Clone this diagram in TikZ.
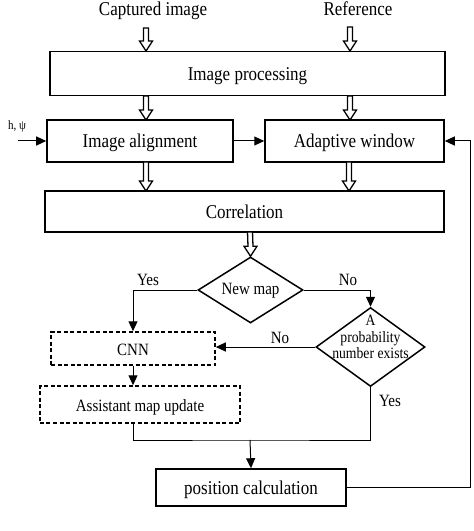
\documentclass[tikz,border=0pt]{standalone}
\usepackage{fontspec}
\usepackage{graphicx}
\setmainfont{Liberation Serif}
\usetikzlibrary{arrows.meta,shapes.geometric,calc}
\newcommand\hollowarr[2]{\draw[harrow] ($(#1)+(-2.5bp,0)$) -- ($(#2)+(-2.5bp,10bp)$) -- ($(#2)+(-6.5bp,10bp)$) -- (#2) -- ($(#2)+(6.5bp,10bp)$) -- ($(#2)+(2.5bp,10bp)$) -- ($(#1)+(2.5bp,0)$) -- cycle;}
\newcommand\vs[1]{\scalebox{1}[1.15]{#1}}
\begin{document}
\begin{tikzpicture}[x=1bp,y=-1bp,
  big/.style={font=\fontsize{17bp}{20bp}\selectfont},
  mid/.style={font=\fontsize{15bp}{18bp}\selectfont},
  box/.style={draw, line width=1.5bp, inner sep=0, big, text height=14bp, text depth=0bp},
  dbox/.style={draw, line width=1.5bp, inner sep=0, dash pattern=on 4bp off 2.5bp, mid, text height=13bp, text depth=0bp},
  dia/.style={draw, diamond, line width=1.5bp, inner sep=0, aspect=1.6},
  arr/.style={line width=1bp, -{Triangle[length=10bp,width=9bp]}},
  ln/.style={line width=1bp},
  harrow/.style={line width=1.3bp, fill=white, line join=miter},
  lbl/.style={inner sep=0, mid},
]
\useasboundingbox (0,0) rectangle (474,531);
% texts at top
\node[inner sep=0, big, anchor=base] (cap) at (153,16) {\vs{Captured image}};
\node[inner sep=0, big, anchor=base] (ref) at (358,16) {\vs{Reference}};
% boxes
\node[box, minimum width=395bp, minimum height=44bp] (ip) at (247.5,73.5) {\vs{Image processing}};
\node[box, minimum width=186bp, minimum height=42bp] (ia) at (140,141) {\vs{Image alignment}};
\node[box, minimum width=179bp, minimum height=42bp] (aw) at (354.5,141) {\vs{Adaptive window}};
\node[box, minimum width=399bp, minimum height=41bp] (corr) at (244.5,211.5) {\vs{Correlation}};
\node[dia, minimum width=105bp, minimum height=66bp, mid, text height=8bp, text depth=0bp] (nm) at (250.5,290) {\vs{New map}};
\node[dia, minimum width=109bp, minimum height=79bp,
  label={[inner sep=0, align=center, font=\fontsize{13.7bp}{16.5bp}\selectfont, yshift=10bp]center:\vs{A}\\\vs{probability}\\\vs{number exists}}] (d2) at (370.5,347) {};
\node[dbox, minimum width=164bp, minimum height=33bp] (cnn) at (133,348.5) {\vs{CNN}};
\node[dbox, minimum width=200bp, minimum height=37bp] (am) at (140,404.5) {\vs{Assistant map update}};
\node[box, minimum width=190bp, minimum height=37bp] (pc) at (251,487.5) {\vs{position calculation}};
% coordinates
\coordinate (hin) at (18,141);
\coordinate (j) at (250,440);
\coordinate (fb) at (470,141);
% hollow arrows
\hollowarr{146,28}{146,51}
\hollowarr{350,27}{350,51}
\hollowarr{146,96}{146,120}
\hollowarr{350,96}{350,120}
\hollowarr{146,162}{146,191}
\hollowarr{349,162}{349,191}
\hollowarr{250,232}{nm.north}
% connectors
\node[inner sep=0, font=\fontsize{11bp}{13bp}\selectfont] (hpsi) at (17,126) {\vs{h, ψ}};
\draw[arr] (hin) -- (ia.west);
\draw[arr] (ia.east) -- (aw.west);
\draw[arr] (nm.west) -| (cnn.north);
\draw[arr] (nm.east) -| (d2.north);
\draw[arr] (d2.west) -- (d2.west -| cnn.east);
\draw[arr] (cnn.south) -- (cnn.south |- am.north);
\draw[ln] (cnn.south |- am.south) |- (j) -| (d2.south);
\draw[arr] (j) -- (pc.north);
\draw[arr] (pc.east) -| (fb) -- (aw.east);
% labels
\node[lbl] (yes1) at (148,280) {\vs{Yes}};
\node[lbl] (no1) at (348,280) {\vs{No}};
\node[lbl] (no2) at (280,338) {\vs{No}};
\node[lbl] (yes2) at (390,401) {\vs{Yes}};
\end{tikzpicture}
\end{document}
